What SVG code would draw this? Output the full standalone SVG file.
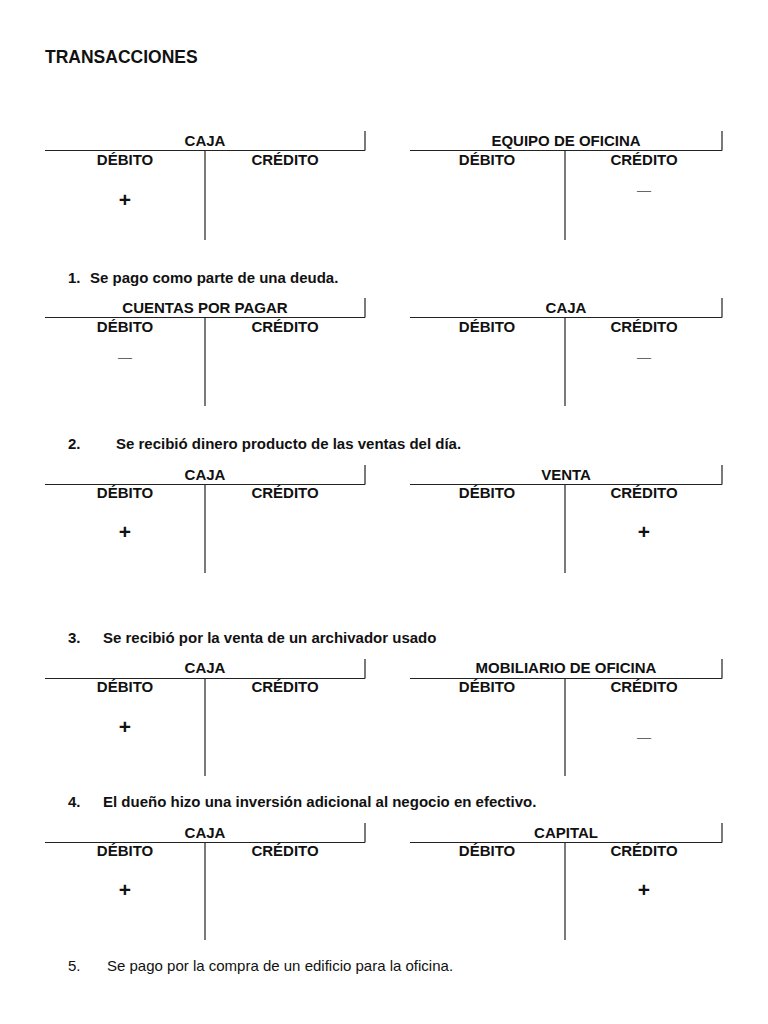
<svg xmlns="http://www.w3.org/2000/svg" width="768" height="1024" viewBox="0 0 768 1024">
<style>
  text { font-family: "Liberation Sans", Arial, sans-serif; fill: #111; }
  .t { font-size: 15px; font-weight: bold; text-anchor: middle; }
  .h { font-size: 15px; font-weight: bold; text-anchor: middle; }
  .q { font-size: 15px; font-weight: bold; }
  .r { font-size: 15px; font-weight: normal; }
  .plus { font-size: 21px; font-weight: bold; text-anchor: middle; }
  .dash { font-size: 14px; font-weight: normal; text-anchor: middle; fill: #666; }
  .ln { stroke: #222; stroke-width: 1.2; fill: none; }
</style>
<rect width="768" height="1024" fill="#fff"/>
<text x="45" y="63" style="font-size:17.5px;font-weight:bold">TRANSACCIONES</text>

<g id="connectors">
  <path class="ln" d="M45 150.5H365M365 131V150.5M205 150.5V240"/>
  <path class="ln" d="M410 150.5H722M722 131V150.5M565 150.5V240"/>
  <path class="ln" d="M45 317.5H365M365 298V317.5M205 317.5V406"/>
  <path class="ln" d="M410 317.5H722M722 298V317.5M565 317.5V406"/>
  <path class="ln" d="M45 484.5H365M365 465V484.5M205 484.5V573"/>
  <path class="ln" d="M410 484.5H722M722 465V484.5M565 484.5V573"/>
  <path class="ln" d="M45 678.5H365M365 659V678.5M205 678.5V776"/>
  <path class="ln" d="M410 678.5H722M722 659V678.5M565 678.5V776"/>
  <path class="ln" d="M45 842.5H365M365 823V842.5M205 842.5V940"/>
  <path class="ln" d="M410 842.5H722M722 823V842.5M565 842.5V940"/>
</g>

<g id="accA1">
  <text class="t" x="205" y="146">CAJA</text>
  <text class="h" x="125" y="164.5">DÉBITO</text>
  <text class="h" x="285" y="164.5">CRÉDITO</text>
  <text class="plus" x="125" y="207">+</text>
</g>
<g id="accA2">
  <text class="t" x="566" y="146">EQUIPO DE OFICINA</text>
  <text class="h" x="487" y="164.5">DÉBITO</text>
  <text class="h" x="644" y="164.5">CRÉDITO</text>
  <text class="dash" x="644" y="195">—</text>
</g>

<g id="item1">
  <text class="q" x="68" y="283">1.</text>
  <text class="q" x="90" y="283">Se pago como parte de una deuda.</text>
</g>

<g id="accB1">
  <text class="t" x="205" y="313">CUENTAS POR PAGAR</text>
  <text class="h" x="125" y="331.5">DÉBITO</text>
  <text class="h" x="285" y="331.5">CRÉDITO</text>
  <text class="dash" x="125" y="362">—</text>
</g>
<g id="accB2">
  <text class="t" x="566" y="313">CAJA</text>
  <text class="h" x="487" y="331.5">DÉBITO</text>
  <text class="h" x="644" y="331.5">CRÉDITO</text>
  <text class="dash" x="644" y="362">—</text>
</g>

<g id="item2">
  <text class="q" x="68" y="449">2.</text>
  <text class="q" x="116" y="449">Se recibió dinero producto de las ventas del día.</text>
</g>

<g id="accC1">
  <text class="t" x="205" y="480">CAJA</text>
  <text class="h" x="125" y="498">DÉBITO</text>
  <text class="h" x="285" y="498">CRÉDITO</text>
  <text class="plus" x="125" y="539">+</text>
</g>
<g id="accC2">
  <text class="t" x="566" y="480">VENTA</text>
  <text class="h" x="487" y="498">DÉBITO</text>
  <text class="h" x="644" y="498">CRÉDITO</text>
  <text class="plus" x="644" y="539">+</text>
</g>

<g id="item3">
  <text class="q" x="68" y="643">3.</text>
  <text class="q" x="103" y="643">Se recibió por la venta de un archivador usado</text>
</g>

<g id="accD1">
  <text class="t" x="205" y="673">CAJA</text>
  <text class="h" x="125" y="692">DÉBITO</text>
  <text class="h" x="285" y="692">CRÉDITO</text>
  <text class="plus" x="125" y="734">+</text>
</g>
<g id="accD2">
  <text class="t" x="566" y="673">MOBILIARIO DE OFICINA</text>
  <text class="h" x="487" y="692">DÉBITO</text>
  <text class="h" x="644" y="692">CRÉDITO</text>
  <text class="dash" x="644" y="742">—</text>
</g>

<g id="item4">
  <text class="q" x="68" y="807">4.</text>
  <text class="q" x="103" y="807">El dueño hizo una inversión adicional al negocio en efectivo.</text>
</g>

<g id="accE1">
  <text class="t" x="205" y="838">CAJA</text>
  <text class="h" x="125" y="856">DÉBITO</text>
  <text class="h" x="285" y="856">CRÉDITO</text>
  <text class="plus" x="125" y="897">+</text>
</g>
<g id="accE2">
  <text class="t" x="566" y="838">CAPITAL</text>
  <text class="h" x="487" y="856">DÉBITO</text>
  <text class="h" x="644" y="856">CRÉDITO</text>
  <text class="plus" x="644" y="897">+</text>
</g>

<g id="item5">
  <text class="r" x="68" y="971">5.</text>
  <text class="r" x="107" y="971">Se pago por la compra de un edificio para la oficina.</text>
</g>
</svg>
